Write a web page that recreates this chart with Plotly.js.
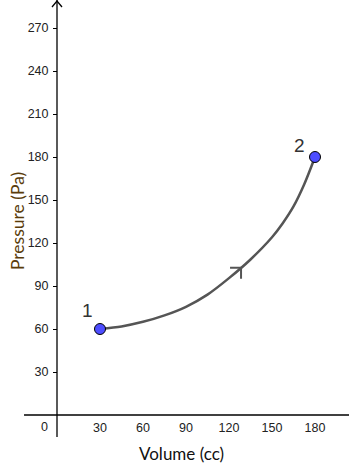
<!DOCTYPE html>
<html>
<head>
<meta charset="utf-8">
<script src="https://cdn.plot.ly/plotly-3.0.1.min.js"></script>
<style>html,body{margin:0;padding:0;background:#fff;}#chart{width:349px;height:469px;}</style>
</head>
<body>
<div id="chart"></div>
<script>
// Data
const volume   = [30, 45, 60, 75, 90, 105, 120, 135, 150, 157.5, 165, 172.5, 180];
const pressure = [60, 61.8, 65, 69.5, 75.5, 84, 95.5, 108.5, 124, 133.8, 145.5, 161, 180];
const stateVolume   = [30, 180];
const statePressure = [60, 180];
const stateLabels   = ['1', '2'];
const xTicks = [30, 60, 90, 120, 150, 180];
const yTicks = [30, 60, 90, 120, 150, 180, 210, 240, 270];
const arrowAtVolume = 128.4;

// scale: 43px per 30 units on both axes
const W = 349, H = 469;
const pxPerUnit = 43 / 30;
const x0px = 57, y0px = 415;
const xRange = [-x0px / pxPerUnit, (W - x0px) / pxPerUnit];
const yRange = [-(H - y0px) / pxPerUnit, y0px / pxPerUnit];

// direction arrow on the curve
function interp(v) {
  for (let i = 0; i < volume.length - 1; i++) {
    if (v >= volume[i] && v <= volume[i + 1]) {
      const t = (v - volume[i]) / (volume[i + 1] - volume[i]);
      return pressure[i] + t * (pressure[i + 1] - pressure[i]);
    }
  }
  return pressure[pressure.length - 1];
}
const tipP = interp(arrowAtVolume);
const arm = 11 / pxPerUnit;

const traces = [
  {x: volume, y: pressure, mode: 'lines', line: {color: '#555555', width: 2.5, shape: 'spline', smoothing: 0.8}, hoverinfo: 'skip', showlegend: false},
  {x: [arrowAtVolume - arm, arrowAtVolume, arrowAtVolume], y: [tipP, tipP, tipP - arm], mode: 'lines', line: {color: '#555555', width: 2}, hoverinfo: 'skip', showlegend: false},
  {x: stateVolume, y: statePressure, mode: 'markers', marker: {color: 'rgb(77,77,255)', size: 11, line: {color: '#000', width: 1}}, showlegend: false}
];

const axisFont = {family: 'Liberation Sans, Arial, sans-serif', size: 12.5, color: '#222'};

const layout = {
  width: W, height: H,
  margin: {l: 0, r: 0, t: 0, b: 0, pad: 0},
  paper_bgcolor: '#fff', plot_bgcolor: '#fff',
  showlegend: false,
  xaxis: {
    range: xRange, anchor: 'free', position: (H - y0px) / H,
    showgrid: false, zeroline: false, showline: false,
    tickmode: 'array', tickvals: xTicks, ticks: '', ticklabelstandoff: 3,
    tickfont: axisFont, automargin: false, fixedrange: true
  },
  yaxis: {
    range: yRange, anchor: 'free', position: x0px / W,
    showgrid: false, zeroline: false, showline: false,
    tickmode: 'array', tickvals: yTicks, ticks: 'outside', ticklen: 4, tickwidth: 1, tickcolor: '#000',
    ticklabelstandoff: 2,
    tickfont: axisFont, automargin: false, fixedrange: true
  },
  shapes: [
    {type: 'line', xref: 'x', yref: 'y', x0: -23, x1: xRange[1], y0: 0, y1: 0, line: {color: '#000', width: 1.3}},
    {type: 'line', xref: 'x', yref: 'y', x0: 0, x1: 0, y0: -15.3, y1: yRange[1], line: {color: '#000', width: 1.3}},
    {type: 'path', xref: 'x', yref: 'y', xsizemode: 'pixel', ysizemode: 'pixel', xanchor: 0, yanchor: yRange[1],
     path: 'M-5,-7 L0,-1 L5,-7', line: {color: '#000', width: 1.3}}
  ],
  annotations: [
    {xref: 'x', yref: 'y', x: 0, y: 0, text: '0', showarrow: false, xshift: -13, yshift: -12, font: axisFont},
    {xref: 'paper', yref: 'paper', x: 182 / W, y: 1 - 453 / H, text: 'Volume (cc)', showarrow: false, xanchor: 'center', yanchor: 'middle',
     font: {family: 'Lato, Open Sans, sans-serif', size: 17, color: '#111'}},
    {xref: 'paper', yref: 'paper', x: 17 / W, y: 1 - 221 / H, text: 'Pressure (Pa)', showarrow: false, textangle: -90, xanchor: 'center', yanchor: 'middle',
     font: {family: 'Lato, Open Sans, sans-serif', size: 17.5, color: '#5a3c0a'}},
    {xref: 'x', yref: 'y', x: stateVolume[0], y: statePressure[0], text: stateLabels[0], showarrow: false, xshift: -13, yshift: 19,
     font: {family: 'Liberation Sans, Arial, sans-serif', size: 19, color: '#333'}},
    {xref: 'x', yref: 'y', x: stateVolume[1], y: statePressure[1], text: stateLabels[1], showarrow: false, xshift: -16, yshift: 12,
     font: {family: 'Liberation Sans, Arial, sans-serif', size: 19, color: '#333'}}
  ]
};

Plotly.newPlot('chart', traces, layout, {displayModeBar: false, staticPlot: true});
</script>
</body>
</html>
